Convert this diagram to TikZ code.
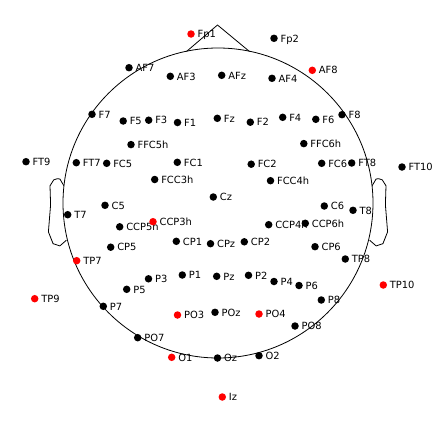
\documentclass[tikz,border=0pt]{standalone}
\usepackage{fontspec}
\setmainfont{DejaVu Sans}
\definecolor{eegred}{RGB}{255,0,0}
\tikzset{
  elecdot/.style={circle,fill=black,draw=none,minimum size=7.5pt,inner sep=0pt},
  reddot/.style={elecdot,fill=eegred},
  elecname/.style={anchor=base west,inner sep=0pt,font=\fontsize{9.9}{10}\selectfont},
  headline/.style={draw=black,line width=0.8pt,line join=round}
}
\newcommand{\elec}[3][elecdot]{%
  \node[#1] (#2) at (#3) {};
  \node[elecname] (#2-t) at ([xshift=6.4pt,yshift=-3.7pt]#2.center) {#2};
}
\begin{document}
\begin{tikzpicture}[x=1pt,y=-1pt]
\useasboundingbox (0,0) rectangle (440,423);
% head
\coordinate (hc) at (218,203);
\draw[headline] (hc) circle[radius=155];
% nose
\coordinate (nl) at (186.5,51.5);
\coordinate (nt) at (217.5,25);
\coordinate (nr) at (249.5,51.5);
\draw[headline] (nl) -- (nt) -- (nr);
% ears
\draw[headline] (372.1,185.8) -- (376.1,179) -- (378.6,178.7) -- (382.3,179.9) -- (386,185.8) -- (385.4,204.7) -- (387.6,231.9) -- (382.9,243.7) -- (376.1,245.9) -- (369.6,240.2);
\draw[headline] (63.9,185.8) -- (59.9,179) -- (57.4,178.7) -- (53.7,179.9) -- (50,185.8) -- (50.6,204.7) -- (48.4,231.9) -- (53.1,243.7) -- (59.9,245.9) -- (66.4,240.2);
% electrodes
\elec[reddot]{Fp1}{191,34}
\elec{Fp2}{274,38.3}
\elec{AF7}{129,67.7}
\elec{AF3}{170.3,76.3}
\elec{AFz}{221.7,75.3}
\elec{AF4}{272,78.3}
\elec[reddot]{AF8}{312.3,70.3}
\elec{F7}{92,114.3}
\elec{F5}{123.2,121}
\elec{F3}{148.7,120.2}
\elec{F1}{177.5,122.5}
\elec{Fz}{217.3,118.3}
\elec{F2}{250.3,122.2}
\elec{F4}{282.7,117.3}
\elec{F6}{315.8,119.3}
\elec{F8}{342,114.7}
\elec{FFC5h}{131,144.6}
\elec{FFC6h}{303.8,143.6}
\elec{FT9}{26,161.7}
\elec{FT7}{76.3,162.7}
\elec{FC5}{106.7,163.3}
\elec{FC1}{177.3,162.3}
\elec{FC2}{251.2,164.2}
\elec{FC6}{321.7,163.3}
\elec{FT8}{351.7,163}
\elec{FT10}{402,167}
\elec{FCC3h}{154.7,179.5}
\elec{FCC4h}{270.5,180.7}
\elec{Cz}{213.3,197}
\elec{C5}{105,205.3}
\elec{T7}{67.7,214.7}
\elec{C6}{324.3,206}
\elec{T8}{353,210.3}
\elec{CCP5h}{119.7,226.8}
\elec[reddot]{CCP3h}{153,221.7}
\elec{CCP4h}{268.7,224.7}
\elec{CCP6h}{305.3,223.3}
\elec{CP5}{110.7,247.2}
\elec{CP1}{176.3,241.3}
\elec{CPz}{210.5,243.7}
\elec{CP2}{244.3,241.8}
\elec{CP6}{315,246.7}
\elec[reddot]{TP7}{76.7,260.7}
\elec{TP8}{345.3,259}
\elec{P1}{182.3,275}
\elec{Pz}{216.7,276.3}
\elec{P2}{248.5,275.3}
\elec{P3}{148.5,278.8}
\elec{P4}{274,281.5}
\elec{P5}{126.7,289.3}
\elec{P6}{299,285.5}
\elec{P7}{103.3,306.3}
\elec{P8}{321.3,300}
\elec[reddot]{TP9}{34.7,298.7}
\elec[reddot]{TP10}{383.3,285}
\elec[reddot]{PO3}{177.5,315}
\elec{POz}{215,312.3}
\elec[reddot]{PO4}{259,314}
\elec{PO7}{137.7,337.7}
\elec{PO8}{295,326}
\elec[reddot]{O1}{171.7,357.3}
\elec{Oz}{217.5,358}
\elec{O2}{259,355.7}
\elec[reddot]{Iz}{222.3,397}
\end{tikzpicture}
\end{document}
